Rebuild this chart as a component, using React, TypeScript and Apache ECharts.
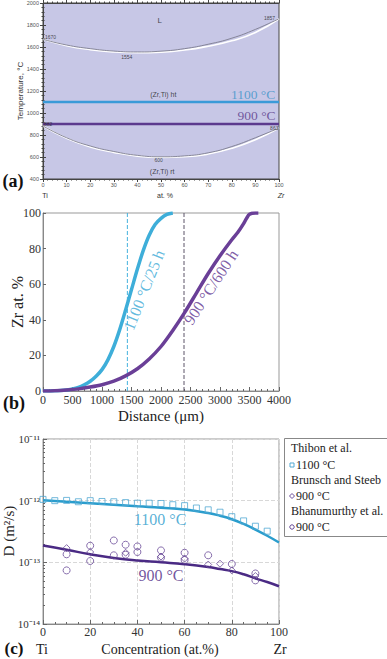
import React, { useEffect, useRef } from "react";
import * as echarts from "echarts";

// ---------- panel (a): Ti-Zr phase diagram ----------
const compX = [0, 10, 20, 30, 40, 50, 60, 70, 80, 90, 100];
const liquidusTop = [1670, 1618, 1585, 1563, 1555, 1562, 1585, 1625, 1680, 1760, 1857];
const liquidusBottom = [1670, 1612, 1576, 1555, 1548, 1553, 1572, 1607, 1656, 1732, 1857];
const transusTop = [882, 775, 700, 650, 615, 602, 610, 638, 695, 775, 863];
const transusBottom = [882, 770, 692, 642, 608, 597, 602, 627, 679, 757, 863];
const isoTemps = [1100, 900];
const phaseLabels = [
  { text: "L", x: 49.5, y: 1843, size: 8 },
  { text: "1670", x: 3.2, y: 1688, size: 5 },
  { text: "1554", x: 35.5, y: 1505, size: 5 },
  { text: "1857", x: 96, y: 1868, size: 5 },
  { text: "(Zr,Ti) ht", x: 51, y: 1166, size: 7 },
  { text: "882", x: 2.2, y: 903, size: 5 },
  { text: "863", x: 98, y: 864, size: 5 },
  { text: "600", x: 49, y: 572, size: 5 },
  { text: "(Zr,Ti) rt", x: 50.5, y: 472, size: 7 },
];
const isoLabels = [
  { text: "1100 °C", x: 89, y: 1168, color: "#3d93c8" },
  { text: "900 °C", x: 90.5, y: 975, color: "#5a3a8a" },
];

// ---------- panel (b): concentration profiles ----------
const distA = [0, 100, 200, 300, 400, 500, 600, 700, 800, 900, 1000, 1100, 1200, 1300, 1400, 1500, 1600, 1700, 1800, 1900, 2000, 2100, 2200];
const zrA = [0, 0, 0.1, 0.3, 0.6, 1.1, 2, 3.5, 5.5, 8.3, 12, 17.5, 25, 34.5, 45.5, 57, 68.5, 79, 87.5, 93.5, 97, 99.2, 100];
const distB = [0, 200, 400, 600, 800, 1000, 1200, 1400, 1600, 1800, 2000, 2200, 2400, 2600, 2800, 3000, 3200, 3300, 3400, 3450, 3500, 3600, 3650];
const zrB = [0, 0.2, 0.6, 1.2, 2.2, 3.5, 5.5, 8.5, 12.5, 18, 25, 34, 44, 55, 66, 76, 85, 89, 94, 97, 99.3, 100, 100];
const dashA = 1430;
const dashB = 2390;
const profileLabels = [
  { text: "1100 °C/25 h", x: 1712, y: 56.7, rotate: 68, color: "#3aa9d6" },
  { text: "900 °C/600 h", x: 2847, y: 58.4, rotate: 57, color: "#5e3590" },
];

// ---------- panel (c): interdiffusion coefficients ----------
const thibonX = [0, 5, 10, 15, 20, 25, 30, 35, 40, 45, 50, 55, 60, 65, 70, 75, 80, 85, 90, 95];
const thibonD = [1.05e-12, 1.0e-12, 1.01e-12, 0.96e-12, 1.0e-12, 0.97e-12, 0.96e-12, 0.93e-12, 0.91e-12, 0.91e-12, 0.9e-12, 0.86e-12, 0.83e-12, 0.76e-12, 0.71e-12, 0.65e-12, 0.55e-12, 0.47e-12, 0.385e-12, 0.32e-12];
const brunschX = [10, 20, 35, 50, 60, 70, 75, 80, 90];
const brunschD = [1.7e-13, 1.47e-13, 1.43e-13, 1.24e-13, 1.15e-13, 0.92e-13, 0.95e-13, 0.74e-13, 0.6e-13];
const bhanuX = [10, 10, 20, 20, 30, 30, 35, 35, 40, 40, 50, 50, 60, 60, 70, 80, 90, 90];
const bhanuD = [1.35e-13, 0.74e-13, 1.86e-13, 1.05e-13, 2.26e-13, 1.3e-13, 1.93e-13, 1.33e-13, 1.81e-13, 1.47e-13, 1.56e-13, 1.19e-13, 1.43e-13, 1.09e-13, 1.3e-13, 0.94e-13, 0.66e-13, 0.51e-13];
const fitX = [0, 10, 20, 30, 40, 50, 60, 70, 75, 80, 85, 90, 95, 100];
const fit1100 = [1.02e-12, 0.96e-12, 0.91e-12, 0.86e-12, 0.81e-12, 0.77e-12, 0.72e-12, 0.63e-12, 0.57e-12, 0.5e-12, 0.42e-12, 0.34e-12, 0.27e-12, 0.21e-12];
const fit900 = [1.87e-13, 1.6e-13, 1.35e-13, 1.18e-13, 1.07e-13, 1.0e-13, 0.93e-13, 0.84e-13, 0.78e-13, 0.72e-13, 0.64e-13, 0.55e-13, 0.48e-13, 0.41e-13];
const dLabels = [
  { text: "1100 °C", x: 49.6, y: 4.9e-13, color: "#2f9ccc" },
  { text: "900 °C", x: 50, y: 6.1e-14, color: "#4e2a86" },
];
const legendLines = ["Thibon et al.", "1100 °C", "Brunsch and Steeb", "900 °C", "Bhanumurthy et al.", "900 °C"];

const SERIF = "'Liberation Serif', 'Times New Roman', serif";
const SANS = "'Liberation Sans', Arial, sans-serif";

const pairs = (xs: number[], ys: number[]) => xs.map((x, i) => [x, ys[i]]);
const plain = (v: number) => String(v);

export default function App() {
  const ref = useRef<HTMLDivElement>(null);
  useEffect(() => {
    document.body.style.margin = "0";
    const chart = echarts.init(ref.current!, undefined, { renderer: "svg" });

    const smallAxisLabel = { fontSize: 5.5, color: "#555", fontFamily: SANS, formatter: plain };
    const supExp: Record<string, string> = { "-11": "⁻¹¹", "-12": "⁻¹²", "-13": "⁻¹³", "-14": "⁻¹⁴" };

    const option: any = {
      animation: false,
      backgroundColor: "#ffffff",
      grid: [
        { left: 43, top: 2, width: 236, height: 177, show: true, backgroundColor: "#c7c7e6", borderColor: "#444", borderWidth: 1 },
        { left: 43, top: 213, width: 236, height: 178, show: true, backgroundColor: "transparent", borderColor: "#999", borderWidth: 1 },
        { left: 43, top: 439, width: 236, height: 185, show: true, backgroundColor: "transparent", borderColor: "#999", borderWidth: 1 },
      ],
      xAxis: [
        {
          gridIndex: 0, type: "value", min: 0, max: 100, interval: 10,
          axisLine: { lineStyle: { color: "#444" } },
          axisTick: { inside: false, length: 3, lineStyle: { color: "#444" } },
          minorTick: { show: true, splitNumber: 5, length: 1.5, lineStyle: { color: "#444" } },
          axisLabel: { ...smallAxisLabel, margin: 3 },
          splitLine: { show: false },
        },
        {
          gridIndex: 0, type: "value", position: "top", min: 0, max: 100, interval: 10,
          axisLine: { lineStyle: { color: "#444" } },
          axisTick: { inside: false, length: 3, lineStyle: { color: "#444" } },
          minorTick: { show: true, splitNumber: 5, length: 1.5, lineStyle: { color: "#444" } },
          axisLabel: { show: false },
          splitLine: { show: false },
        },
        {
          gridIndex: 1, type: "value", min: 0, max: 4000, interval: 500,
          axisLine: { lineStyle: { color: "#888" } },
          axisTick: { inside: true, length: 4, lineStyle: { color: "#666" } },
          minorTick: { show: true, splitNumber: 5, length: 2, lineStyle: { color: "#666" } },
          axisLabel: { fontSize: 12, color: "#333", fontFamily: SERIF, margin: 3, formatter: plain },
          splitLine: { show: false },
        },
        {
          gridIndex: 2, type: "value", min: 0, max: 100, interval: 20,
          axisLine: { lineStyle: { color: "#888" } },
          axisTick: { inside: true, length: 4, lineStyle: { color: "#666" } },
          minorTick: { show: true, splitNumber: 4, length: 2, lineStyle: { color: "#666" } },
          axisLabel: { fontSize: 12, color: "#333", fontFamily: SERIF, margin: 2, formatter: plain },
          splitLine: { show: true, lineStyle: { color: "#d8d8d8", type: "dashed" } },
        },
      ],
      yAxis: [
        {
          gridIndex: 0, type: "value", min: 400, max: 2000, interval: 200,
          axisLine: { lineStyle: { color: "#444" } },
          axisTick: { inside: false, length: 3, lineStyle: { color: "#444" } },
          minorTick: { show: true, splitNumber: 5, length: 1.5, lineStyle: { color: "#444" } },
          axisLabel: { ...smallAxisLabel, margin: 4 },
          splitLine: { show: false },
        },
        {
          gridIndex: 0, type: "value", position: "right", min: 400, max: 2000, interval: 200,
          axisLine: { lineStyle: { color: "#444" } },
          axisTick: { inside: false, length: 3, lineStyle: { color: "#444" } },
          minorTick: { show: true, splitNumber: 5, length: 1.5, lineStyle: { color: "#444" } },
          axisLabel: { show: false },
          splitLine: { show: false },
        },
        {
          gridIndex: 1, type: "value", min: 0, max: 100, interval: 20,
          axisLine: { lineStyle: { color: "#888" } },
          axisTick: { inside: true, length: 3, lineStyle: { color: "#666" } },
          axisLabel: { fontSize: 12, color: "#333", fontFamily: SERIF, margin: 2, formatter: plain },
          splitLine: { show: false },
        },
        {
          gridIndex: 2, type: "log", logBase: 10, min: 1e-14, max: 1e-11,
          axisLine: { lineStyle: { color: "#888" } },
          axisTick: { inside: true, length: 4, lineStyle: { color: "#666" } },
          minorTick: { show: true, splitNumber: 9, length: 2, lineStyle: { color: "#666" } },
          axisLabel: {
            fontSize: 11, color: "#333", fontFamily: SERIF, margin: 3,
            formatter: (v: number) => {
              const e = String(Math.round(Math.log10(v)));
              return "10" + (supExp[e] || e);
            },
          },
          splitLine: { show: true, lineStyle: { color: "#d8d8d8", type: "dashed" } },
        },
      ],
      series: [
        // ----- (a)
        { type: "line", xAxisIndex: 0, yAxisIndex: 0, smooth: true, symbol: "none", data: pairs(compX, liquidusBottom), lineStyle: { color: "#ffffff", width: 1.6 }, z: 2 },
        { type: "line", xAxisIndex: 0, yAxisIndex: 0, smooth: true, symbol: "none", data: pairs(compX, liquidusTop), lineStyle: { color: "#7d7d8e", width: 0.9 }, z: 3 },
        { type: "line", xAxisIndex: 0, yAxisIndex: 0, smooth: true, symbol: "none", data: pairs(compX, transusBottom), lineStyle: { color: "#ffffff", width: 1.6 }, z: 2 },
        { type: "line", xAxisIndex: 0, yAxisIndex: 0, smooth: true, symbol: "none", data: pairs(compX, transusTop), lineStyle: { color: "#7d7d8e", width: 0.9 }, z: 3 },
        { type: "line", xAxisIndex: 0, yAxisIndex: 0, symbol: "none", data: [[0, isoTemps[0]], [100, isoTemps[0]]], lineStyle: { color: "#3a9ad8", width: 2.5 }, z: 4 },
        { type: "line", xAxisIndex: 0, yAxisIndex: 0, symbol: "none", data: [[0, isoTemps[1]], [100, isoTemps[1]]], lineStyle: { color: "#5b3a8e", width: 2.5 }, z: 4 },
        {
          type: "scatter", xAxisIndex: 0, yAxisIndex: 0, symbolSize: 0, z: 6,
          data: phaseLabels.map((p) => ({
            name: p.text, value: [p.x, p.y],
            label: { show: true, position: "inside", formatter: p.text, fontSize: p.size, color: "#222", fontFamily: SANS },
          })),
        },
        {
          type: "scatter", xAxisIndex: 0, yAxisIndex: 0, symbolSize: 0, z: 6,
          data: isoLabels.map((p) => ({
            name: p.text, value: [p.x, p.y],
            label: { show: true, position: "inside", formatter: p.text, fontSize: 13.5, color: p.color, fontFamily: SERIF },
          })),
        },
        // ----- (b)
        { type: "line", xAxisIndex: 2, yAxisIndex: 2, symbol: "none", data: [[dashA, 0], [dashA, 100]], lineStyle: { type: "dashed", color: "#45b2de", width: 1 }, z: 2 },
        { type: "line", xAxisIndex: 2, yAxisIndex: 2, symbol: "none", data: [[dashB, 0], [dashB, 100]], lineStyle: { type: "dashed", color: "#5c5468", width: 1 }, z: 2 },
        {
          type: "line", xAxisIndex: 2, yAxisIndex: 2, smooth: 0.3, symbol: "none", data: pairs(distA, zrA),
          lineStyle: { color: "#3eaed9", width: 3.5 }, z: 3,
        },
        {
          type: "line", xAxisIndex: 2, yAxisIndex: 2, smooth: 0.3, symbol: "none", data: pairs(distB, zrB),
          lineStyle: { color: "#6a3f97", width: 3.5 }, z: 3,
        },
        {
          type: "scatter", xAxisIndex: 2, yAxisIndex: 2, symbolSize: 0, z: 6,
          data: profileLabels.map((p) => ({
            name: p.text, value: [p.x, p.y],
            label: { show: true, position: "inside", rotate: p.rotate, formatter: p.text, fontSize: 16, color: p.color, fontFamily: SERIF },
          })),
        },
        // ----- (c)
        { type: "line", xAxisIndex: 3, yAxisIndex: 3, smooth: true, symbol: "none", data: pairs(fitX, fit1100), lineStyle: { color: "#2a9dcd", width: 2.5 }, z: 3 },
        { type: "line", xAxisIndex: 3, yAxisIndex: 3, smooth: true, symbol: "none", data: pairs(fitX, fit900), lineStyle: { color: "#4a2a84", width: 2.5 }, z: 3 },
        {
          type: "scatter", xAxisIndex: 3, yAxisIndex: 3, symbol: "rect", symbolSize: 6, data: pairs(thibonX, thibonD), z: 4,
          itemStyle: { color: "rgba(0,0,0,0)", borderColor: "#52a9d3", borderWidth: 1 },
        },
        {
          type: "scatter", xAxisIndex: 3, yAxisIndex: 3, symbol: "diamond", symbolSize: 7, data: pairs(brunschX, brunschD), z: 4,
          itemStyle: { color: "rgba(0,0,0,0)", borderColor: "#6a4b98", borderWidth: 1 },
        },
        {
          type: "scatter", xAxisIndex: 3, yAxisIndex: 3, symbol: "circle", symbolSize: 7, data: pairs(bhanuX, bhanuD), z: 4,
          itemStyle: { color: "rgba(0,0,0,0)", borderColor: "#6a4b98", borderWidth: 1 },
        },
        {
          type: "scatter", xAxisIndex: 3, yAxisIndex: 3, symbolSize: 0, z: 6,
          data: dLabels.map((p) => ({
            name: p.text, value: [p.x, p.y],
            label: { show: true, position: "inside", formatter: p.text, fontSize: 16, color: p.color, fontFamily: SERIF },
          })),
        },
      ],
      graphic: [
        // panel letters
        { type: "text", x: 13, y: 181, style: { text: "(a)", fontSize: 18, fontWeight: "bold", fontFamily: SERIF, fill: "#111", align: "center", verticalAlign: "middle" } },
        { type: "text", x: 14, y: 403, style: { text: "(b)", fontSize: 18, fontWeight: "bold", fontFamily: SERIF, fill: "#111", align: "center", verticalAlign: "middle" } },
        { type: "text", x: 14, y: 648, style: { text: "(c)", fontSize: 17, fontWeight: "bold", fontFamily: SERIF, fill: "#111", align: "center", verticalAlign: "middle" } },
        // (a) axis names
        { type: "text", x: 20, y: 91, rotation: Math.PI / 2, style: { text: "Temperature, °C", fontSize: 8, fontFamily: SANS, fill: "#333", align: "center", verticalAlign: "middle" } },
        { type: "text", x: 45, y: 195, style: { text: "Ti", fontSize: 7, fontFamily: SANS, fill: "#333", align: "center", verticalAlign: "middle" } },
        { type: "text", x: 165, y: 195, style: { text: "at. %", fontSize: 7, fontFamily: SANS, fill: "#333", align: "center", verticalAlign: "middle" } },
        { type: "text", x: 281, y: 195, style: { text: "Zr", fontSize: 7, fontStyle: "italic", fontFamily: SANS, fill: "#333", align: "center", verticalAlign: "middle" } },
        // (b) axis names
        { type: "text", x: 17, y: 302, rotation: Math.PI / 2, style: { text: "Zr at. %", fontSize: 16, fontFamily: SERIF, fill: "#222", align: "center", verticalAlign: "middle" } },
        { type: "text", x: 161, y: 416, style: { text: "Distance (μm)", fontSize: 15, fontFamily: SERIF, fill: "#222", align: "center", verticalAlign: "middle" } },
        // (c) axis names
        { type: "text", x: 9, y: 531, rotation: Math.PI / 2, style: { text: "D (m²/s)", fontSize: 15, fontFamily: SERIF, fill: "#222", align: "center", verticalAlign: "middle" } },
        { type: "text", x: 42, y: 649, style: { text: "Ti", fontSize: 14, fontFamily: SERIF, fill: "#222", align: "center", verticalAlign: "middle" } },
        { type: "text", x: 160, y: 649, style: { text: "Concentration (at.%)", fontSize: 14, fontFamily: SERIF, fill: "#222", align: "center", verticalAlign: "middle" } },
        { type: "text", x: 280, y: 649, style: { text: "Zr", fontSize: 14, fontFamily: SERIF, fill: "#222", align: "center", verticalAlign: "middle" } },
        // legend box
        { type: "rect", shape: { x: 284.5, y: 438.5, width: 110, height: 98 }, style: { fill: "#fff", stroke: "#888", lineWidth: 1 }, z: 10 },
        { type: "text", x: 291, y: 448, z: 11, style: { text: legendLines[0], fontSize: 12, fontFamily: SERIF, fill: "#222", verticalAlign: "middle" } },
        { type: "rect", z: 11, shape: { x: 290, y: 463, width: 4, height: 4 }, style: { fill: "none", stroke: "#52a9d3", lineWidth: 1 } },
        { type: "text", x: 296, y: 465, z: 11, style: { text: legendLines[1], fontSize: 12, fontFamily: SERIF, fill: "#222", verticalAlign: "middle" } },
        { type: "text", x: 291, y: 480, z: 11, style: { text: legendLines[2], fontSize: 12, fontFamily: SERIF, fill: "#222", verticalAlign: "middle" } },
        { type: "polygon", z: 11, shape: { points: [[292, 493.5], [294.5, 496], [292, 498.5], [289.5, 496]] }, style: { fill: "none", stroke: "#6a4b98", lineWidth: 1 } },
        { type: "text", x: 296, y: 496, z: 11, style: { text: legendLines[3], fontSize: 12, fontFamily: SERIF, fill: "#222", verticalAlign: "middle" } },
        { type: "text", x: 291, y: 511, z: 11, style: { text: legendLines[4], fontSize: 12, fontFamily: SERIF, fill: "#222", verticalAlign: "middle" } },
        { type: "circle", z: 11, shape: { cx: 292, cy: 527, r: 2.2 }, style: { fill: "none", stroke: "#6a4b98", lineWidth: 1 } },
        { type: "text", x: 296, y: 527, z: 11, style: { text: legendLines[5], fontSize: 12, fontFamily: SERIF, fill: "#222", verticalAlign: "middle" } },
      ],
    };
    chart.setOption(option);
    return () => chart.dispose();
  }, []);
  return <div ref={ref} style={{ position: "absolute", left: 0, top: 0, width: 387, height: 659 }} />;
}
